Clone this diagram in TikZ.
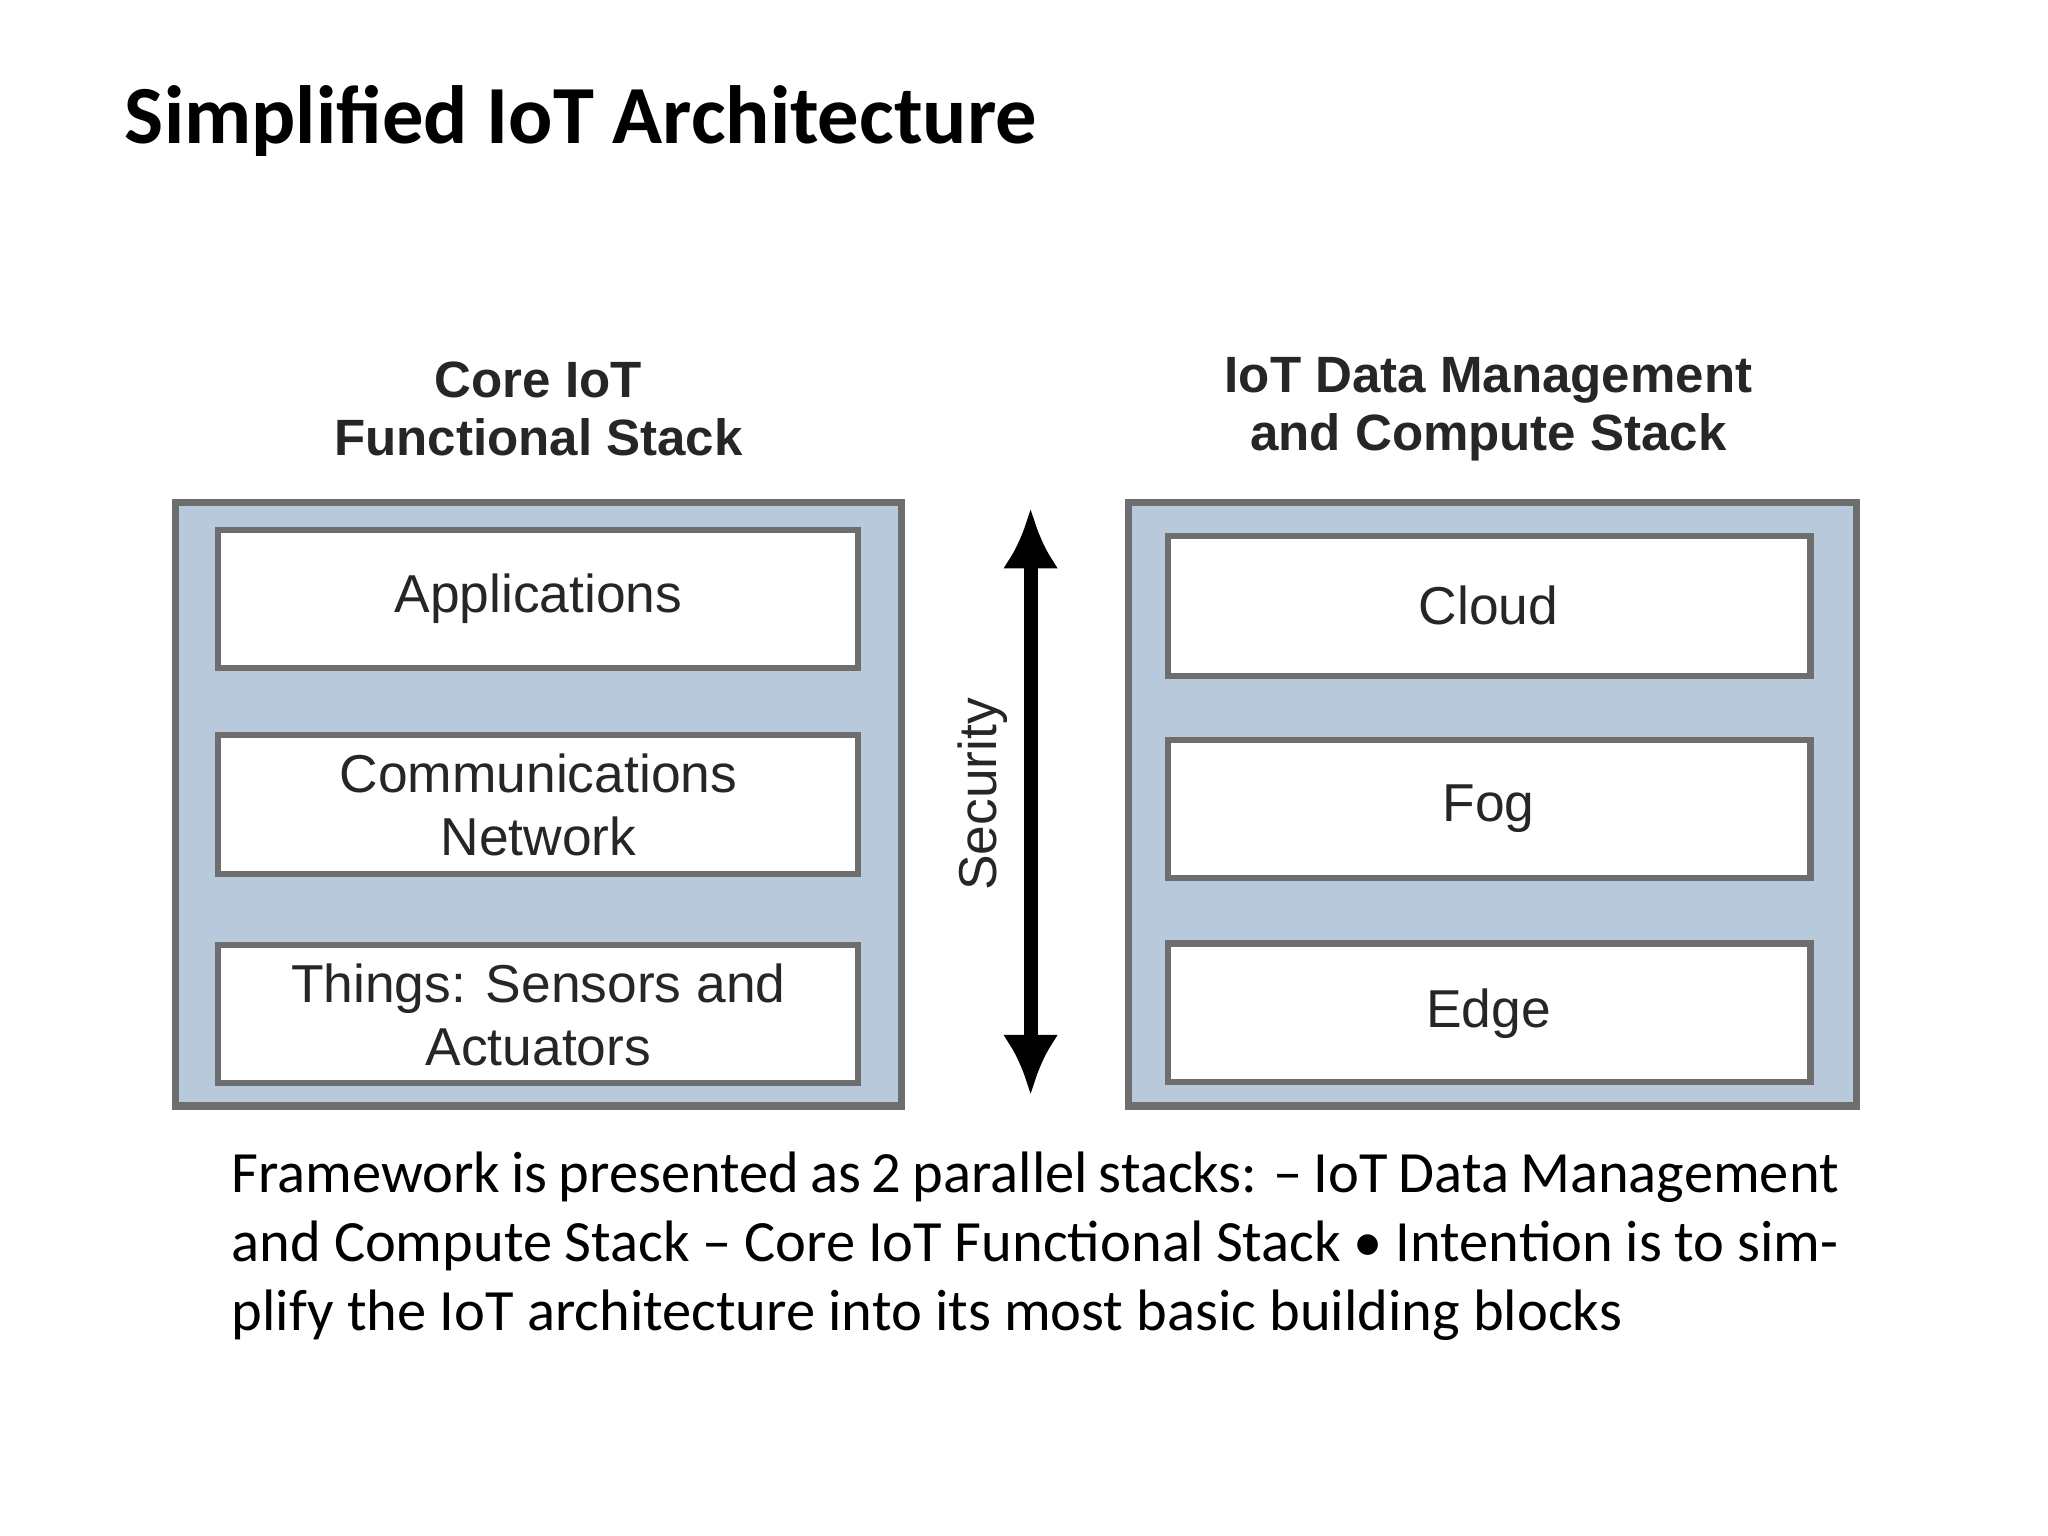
\documentclass[tikz,border=0pt]{standalone}
\usepackage{fontspec}
\setmainfont{Carlito}
\newfontfamily\arialf{Liberation Sans}
\usetikzlibrary{arrows.meta}
\definecolor{stackbg}{HTML}{B9C9DC}
\definecolor{edgegray}{HTML}{6E6E6E}
\begin{document}
\begin{tikzpicture}[x=0.01cm,y=-0.01cm,
  outer/.style={draw=edgegray,line width=1.6pt,fill=stackbg},
  inner/.style={draw=edgegray,line width=1.3pt,fill=white},
  lbl/.style={font=\arialf\fontsize{11.5pt}{13.5pt}\selectfont,align=center,text=black!85},
  hdr/.style={font=\arialf\bfseries\fontsize{11pt}{12.4pt}\selectfont,align=center,text=black!85}]
\useasboundingbox (0,0) rectangle (1552,1164);
\node[anchor=west,inner sep=0pt,font=\bfseries\fontsize{17.8pt}{20pt}\selectfont] (title) at (94,92) {Simplified IoT Architecture};
\node[hdr] (h1) at (408,310) {Core IoT\\Functional Stack};
\node[hdr] (h2) at (1128,310) {IoT Data Management\\and Compute Stack};
\draw[outer] (133,381) rectangle (683,838);
\draw[outer] (855,381) rectangle (1407,838);
\draw[inner] (165,402) rectangle (650,506);
\draw[inner] (165,557) rectangle (650,662);
\draw[inner] (165,716) rectangle (650,821);
\draw[inner] (885,406) rectangle (1372,512);
\draw[inner] (885,561) rectangle (1372,665);
\draw[inner] (885,715) rectangle (1372,820);
\node[lbl] (app) at (408,454) {Applications};
\node[lbl] (com) at (408,610) {Communications\\Network};
\node[lbl] (thi) at (408,769) {Things: Sensors and\\Actuators};
\node[lbl] (clo) at (1128,459) {Cloud};
\node[lbl] (fog) at (1128,613) {Fog};
\node[lbl] (edg) at (1128,768) {Edge};
\coordinate (atop) at (781,385);
\coordinate (abot) at (781,830);
\draw[line width=3pt,{Latex[length=13pt,width=12pt]}-{Latex[length=13pt,width=12pt]}] (atop) -- (abot);
\node[lbl,rotate=90] (sec) at (745,602) {Security};
\node[anchor=north west,text width=12.17cm,align=justify,inner sep=0pt,
  font=\fontsize{12.6pt}{14.9pt}\selectfont] (para) at (175,872)
{Framework is presented as 2 parallel stacks: -- IoT Data Management and Compute Stack -- Core IoT Functional Stack • Intention is to simplify the IoT architecture into its most basic building blocks};
\end{tikzpicture}
\end{document}
